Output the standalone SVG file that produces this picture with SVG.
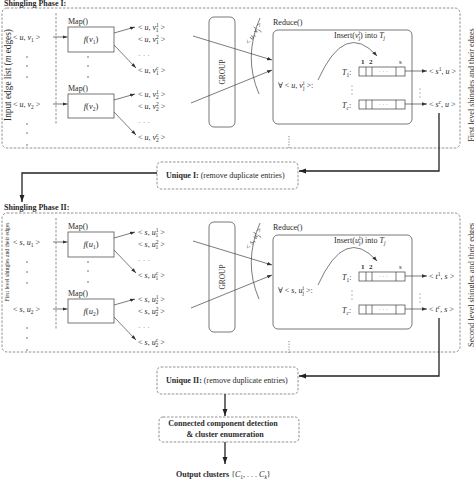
<svg xmlns="http://www.w3.org/2000/svg" width="474" height="479" viewBox="0 0 474 479">
<style>
.t{font-family:"Liberation Serif","DejaVu Serif",serif;font-size:8px;fill:#2a2a2a}
.b{font-weight:bold}
.i{font-style:italic}
.s{font-size:5.5px}
.g{fill:#8a8a8a}
.box{fill:none;stroke:#555;stroke-width:0.8}
.dash{fill:none;stroke:#777;stroke-width:0.8;stroke-dasharray:2.5 1.5}
.ln{fill:none;stroke:#444;stroke-width:0.7}
.dl{fill:none;stroke:#666;stroke-width:0.8;stroke-dasharray:1.2 1.5}
.conn{fill:none;stroke:#222;stroke-width:1.3}
.dot{fill:#444}
</style>
<defs>
<marker id="a" viewBox="0 0 10 10" refX="10" refY="5" markerWidth="5" markerHeight="5" orient="auto" markerUnits="userSpaceOnUse"><path d="M0,1.5L10,5L0,8.5z" fill="#333"/></marker>
<marker id="A" viewBox="0 0 10 10" refX="10" refY="5" markerWidth="7" markerHeight="7" orient="auto" markerUnits="userSpaceOnUse"><path d="M0,1.5L10,5L0,8.5z" fill="#222"/></marker>
</defs>

<!-- ================= PHASE I ================= -->
<g id="phase1">
<rect class="dash" x="2" y="8" width="458" height="140" rx="5"/>
<text class="t b" x="4" y="6">Shingling Phase I:</text>
<text class="t" transform="translate(11,75) rotate(-90)" text-anchor="middle" style="font-size:9.3px">Input edge list (<tspan class="i">m</tspan> edges)</text>
<line class="dash" x1="56" y1="13" x2="56" y2="125"/>
<text class="t" transform="translate(473.5,85) rotate(-90)" text-anchor="middle" style="font-size:8.2px">First level shingles and their edges</text>
</g>

<g id="p1-in1"><text class="t" x="13" y="40">&lt; <tspan class="i">u</tspan>, <tspan class="i">v</tspan><tspan class="s" dy="2">1</tspan><tspan dy="-2"> &gt;</tspan></text></g>
<g id="p1-in2"><text class="t" x="13" y="107">&lt; <tspan class="i">u</tspan>, <tspan class="i">v</tspan><tspan class="s" dy="2">2</tspan><tspan dy="-2"> &gt;</tspan></text></g>
<g id="p1-dots">
<circle class="dot" cx="27" cy="57" r="0.7"/><circle class="dot" cx="27" cy="66" r="0.7"/><circle class="dot" cx="27" cy="77" r="0.7"/>
<circle class="dot" cx="27" cy="124" r="0.7"/><circle class="dot" cx="27" cy="133" r="0.7"/><circle class="dot" cx="27" cy="145" r="0.7"/>
<circle class="dot" cx="88" cy="57" r="0.7"/><circle class="dot" cx="88" cy="66" r="0.7"/><circle class="dot" cx="88" cy="77" r="0.7"/>
</g>
<g id="p1-map1"><text class="t" x="68" y="24">Map()</text><rect class="box" x="68" y="27" width="46" height="25"/><text class="t" x="91" y="42" text-anchor="middle" style="font-size:8.5px"><tspan class="i">f</tspan>(<tspan class="i">v</tspan><tspan class="s" dy="2">1</tspan><tspan dy="-2">)</tspan></text></g>
<g id="p1-map2"><text class="t" x="68" y="91">Map()</text><rect class="box" x="68" y="94" width="46" height="24"/><text class="t" x="91" y="109" text-anchor="middle" style="font-size:8.5px"><tspan class="i">f</tspan>(<tspan class="i">v</tspan><tspan class="s" dy="2">2</tspan><tspan dy="-2">)</tspan></text></g>
<g id="p1-out1">
<text class="t" x="138" y="30">&lt; <tspan class="i">u</tspan>, <tspan class="i">v</tspan><tspan class="s" dy="-3">1</tspan><tspan class="s" dx="-2.8" dy="5">1</tspan><tspan dy="-2"> &gt;</tspan></text>
<text class="t" x="138" y="42">&lt; <tspan class="i">u</tspan>, <tspan class="i">v</tspan><tspan class="s" dy="-3">2</tspan><tspan class="s" dx="-2.8" dy="5">1</tspan><tspan dy="-2"> &gt;</tspan></text>
<text class="t g" x="138" y="58">· · ·</text>
<text class="t" x="138" y="73">&lt; <tspan class="i">u</tspan>, <tspan class="i">v</tspan><tspan class="s" dy="-3">c</tspan><tspan class="s" dx="-2.5" dy="5">1</tspan><tspan dy="-2"> &gt;</tspan></text>
</g>
<g id="p1-out2">
<text class="t" x="138" y="97">&lt; <tspan class="i">u</tspan>, <tspan class="i">v</tspan><tspan class="s" dy="-3">1</tspan><tspan class="s" dx="-2.8" dy="5">2</tspan><tspan dy="-2"> &gt;</tspan></text>
<text class="t" x="138" y="109">&lt; <tspan class="i">u</tspan>, <tspan class="i">v</tspan><tspan class="s" dy="-3">2</tspan><tspan class="s" dx="-2.8" dy="5">2</tspan><tspan dy="-2"> &gt;</tspan></text>
<text class="t g" x="138" y="125">· · ·</text>
<text class="t" x="138" y="140">&lt; <tspan class="i">u</tspan>, <tspan class="i">v</tspan><tspan class="s" dy="-3">c</tspan><tspan class="s" dx="-2.5" dy="5">2</tspan><tspan dy="-2"> &gt;</tspan></text>
</g>
<g id="p1-group"><rect class="box" x="209" y="17" width="26" height="110" rx="5"/><text class="t" transform="translate(224.5,72) rotate(-90)" text-anchor="middle" style="font-size:7.4px">GROUP</text></g>
<g id="p1-keylabel"><text class="t" transform="translate(249,45) rotate(-57)" style="font-size:7.5px">&lt; <tspan class="i">u</tspan>, <tspan class="i">v</tspan><tspan class="s" dy="-3">i</tspan><tspan class="s" dx="-1.5" dy="5">j</tspan><tspan dy="-2"> &gt;</tspan></text></g>
<g id="p1-reduce">
<text class="t" x="273" y="25">Reduce()</text>
<rect class="box" x="273" y="30" width="139" height="94" rx="5"/>
<text class="t" x="334" y="38">Insert(<tspan class="i">v</tspan><tspan class="s" dy="-3">i</tspan><tspan class="s" dx="-1.5" dy="5">j</tspan><tspan dy="-2">) into </tspan><tspan class="i">T</tspan><tspan class="s i" dy="2">j</tspan></text>
<text class="t" x="278" y="88">∀ &lt; <tspan class="i">u</tspan>, <tspan class="i">v</tspan><tspan class="s" dy="-3">i</tspan><tspan class="s" dx="-1.5" dy="5">j</tspan><tspan dy="-2"> &gt;:</tspan></text>
<text class="t b" x="361" y="64" style="font-size:7px">1</text><text class="t b" x="369" y="64" style="font-size:7px">2</text><text class="t" x="399" y="64" style="font-size:7px">s</text>
<text class="t" x="342" y="75"><tspan class="i">T</tspan><tspan class="s" dy="2">1</tspan><tspan dy="-2">:</tspan></text>
<rect class="box" x="359" y="67" width="46" height="9"/>
<path class="ln" d="M366,67V76M372,67V76M396,67V76"/>
<text class="t g" x="379" y="74" style="font-size:6px">· · ·</text>
<circle class="dot" cx="352" cy="86" r="0.5"/><circle class="dot" cx="352" cy="90" r="0.5"/><circle class="dot" cx="352" cy="94" r="0.5"/>
<text class="t" x="342" y="108"><tspan class="i">T</tspan><tspan class="s i" dy="2">c</tspan><tspan dy="-2">:</tspan></text>
<rect class="box" x="359" y="100" width="46" height="9"/>
<path class="ln" d="M366,100V109M372,100V109M396,100V109"/>
<text class="t g" x="379" y="107" style="font-size:6px">· · ·</text>
</g>
<g id="p1-result">
<text class="t" x="429" y="74">&lt; <tspan class="i">s</tspan><tspan class="s" dy="-3">1</tspan><tspan dy="3">, </tspan><tspan class="i">u</tspan> &gt;</text>
<circle class="dot" cx="420" cy="89" r="0.5"/><circle class="dot" cx="420" cy="93" r="0.5"/><circle class="dot" cx="420" cy="97" r="0.5"/>
<text class="t" x="429" y="107">&lt; <tspan class="i">s</tspan><tspan class="s i" dy="-3">c</tspan><tspan dy="3">, </tspan><tspan class="i">u</tspan> &gt;</text>
</g>

<g id="unique1"><rect class="dash" x="157" y="162" width="141" height="27" rx="4"/><text class="t" x="166" y="178"><tspan class="b">Unique I:</tspan> (remove duplicate entries)</text></g>

<!-- ================= PHASE II ================= -->
<g id="phase2">
<rect class="dash" x="2" y="213" width="458" height="139" rx="5"/>
<text class="t b" x="4" y="210">Shingling Phase II:</text>
<text class="t" transform="translate(9,262) rotate(-90)" text-anchor="middle" style="font-size:5.7px">First level shingles and their edges</text>
<line class="dash" x1="56" y1="218" x2="56" y2="330"/>
<text class="t" transform="translate(473.5,285) rotate(-90)" text-anchor="middle" style="font-size:8.3px">Second level shingles and their edges</text>
</g>

<g transform="translate(0,205)">
<g id="p2-in1"><text class="t" x="13" y="40">&lt; <tspan class="i">s</tspan>, <tspan class="i">u</tspan><tspan class="s" dy="2">1</tspan><tspan dy="-2"> &gt;</tspan></text></g>
<g id="p2-in2"><text class="t" x="13" y="107">&lt; <tspan class="i">s</tspan>, <tspan class="i">u</tspan><tspan class="s" dy="2">2</tspan><tspan dy="-2"> &gt;</tspan></text></g>
<g id="p2-dots">
<circle class="dot" cx="27" cy="57" r="0.7"/><circle class="dot" cx="27" cy="67" r="0.7"/><circle class="dot" cx="27" cy="78" r="0.7"/>
<circle class="dot" cx="27" cy="123" r="0.7"/><circle class="dot" cx="27" cy="133" r="0.7"/><circle class="dot" cx="27" cy="145" r="0.7"/>
<circle class="dot" cx="88" cy="57" r="0.7"/><circle class="dot" cx="88" cy="66" r="0.7"/><circle class="dot" cx="88" cy="77" r="0.7"/>
</g>
<g id="p2-map1"><text class="t" x="68" y="24">Map()</text><rect class="box" x="68" y="27" width="46" height="25"/><text class="t" x="91" y="42" text-anchor="middle" style="font-size:8.5px"><tspan class="i">f</tspan>(<tspan class="i">u</tspan><tspan class="s" dy="2">1</tspan><tspan dy="-2">)</tspan></text></g>
<g id="p2-map2"><text class="t" x="68" y="91">Map()</text><rect class="box" x="68" y="94" width="46" height="24"/><text class="t" x="91" y="109" text-anchor="middle" style="font-size:8.5px"><tspan class="i">f</tspan>(<tspan class="i">u</tspan><tspan class="s" dy="2">2</tspan><tspan dy="-2">)</tspan></text></g>
<g id="p2-out1">
<text class="t" x="138" y="30">&lt; <tspan class="i">s</tspan>, <tspan class="i">u</tspan><tspan class="s" dy="-3">1</tspan><tspan class="s" dx="-2.8" dy="5">1</tspan><tspan dy="-2"> &gt;</tspan></text>
<text class="t" x="138" y="42">&lt; <tspan class="i">s</tspan>, <tspan class="i">u</tspan><tspan class="s" dy="-3">2</tspan><tspan class="s" dx="-2.8" dy="5">1</tspan><tspan dy="-2"> &gt;</tspan></text>
<text class="t g" x="138" y="58">· · ·</text>
<text class="t" x="138" y="73">&lt; <tspan class="i">s</tspan>, <tspan class="i">u</tspan><tspan class="s" dy="-3">c</tspan><tspan class="s" dx="-2.5" dy="5">1</tspan><tspan dy="-2"> &gt;</tspan></text>
</g>
<g id="p2-out2">
<text class="t" x="138" y="97">&lt; <tspan class="i">s</tspan>, <tspan class="i">u</tspan><tspan class="s" dy="-3">1</tspan><tspan class="s" dx="-2.8" dy="5">2</tspan><tspan dy="-2"> &gt;</tspan></text>
<text class="t" x="138" y="109">&lt; <tspan class="i">s</tspan>, <tspan class="i">u</tspan><tspan class="s" dy="-3">2</tspan><tspan class="s" dx="-2.8" dy="5">2</tspan><tspan dy="-2"> &gt;</tspan></text>
<text class="t g" x="138" y="125">· · ·</text>
<text class="t" x="138" y="140">&lt; <tspan class="i">s</tspan>, <tspan class="i">u</tspan><tspan class="s" dy="-3">c</tspan><tspan class="s" dx="-2.5" dy="5">2</tspan><tspan dy="-2"> &gt;</tspan></text>
</g>
<g id="p2-group"><rect class="box" x="209" y="17" width="26" height="110" rx="5"/><text class="t" transform="translate(224.5,72) rotate(-90)" text-anchor="middle" style="font-size:7.4px">GROUP</text></g>
<g id="p2-keylabel"><text class="t" transform="translate(249,45) rotate(-57)" style="font-size:7.5px">&lt; <tspan class="i">s</tspan>, <tspan class="i">u</tspan><tspan class="s" dy="-3">i</tspan><tspan class="s" dx="-1.5" dy="5">j</tspan><tspan dy="-2"> &gt;</tspan></text></g>
<g id="p2-reduce">
<text class="t" x="273" y="25">Reduce()</text>
<rect class="box" x="273" y="30" width="139" height="94" rx="5"/>
<text class="t" x="334" y="38">Insert(<tspan class="i">u</tspan><tspan class="s" dy="-3">i</tspan><tspan class="s" dx="-1.5" dy="5">j</tspan><tspan dy="-2">) into </tspan><tspan class="i">T</tspan><tspan class="s i" dy="2">j</tspan></text>
<text class="t" x="278" y="88">∀ &lt; <tspan class="i">s</tspan>, <tspan class="i">u</tspan><tspan class="s" dy="-3">i</tspan><tspan class="s" dx="-1.5" dy="5">j</tspan><tspan dy="-2"> &gt;:</tspan></text>
<text class="t b" x="361" y="64" style="font-size:7px">1</text><text class="t b" x="369" y="64" style="font-size:7px">2</text><text class="t" x="399" y="64" style="font-size:7px">s</text>
<text class="t" x="342" y="75"><tspan class="i">T</tspan><tspan class="s" dy="2">1</tspan><tspan dy="-2">:</tspan></text>
<rect class="box" x="359" y="67" width="46" height="9"/>
<path class="ln" d="M366,67V76M372,67V76M396,67V76"/>
<text class="t g" x="379" y="74" style="font-size:6px">· · ·</text>
<circle class="dot" cx="352" cy="86" r="0.5"/><circle class="dot" cx="352" cy="90" r="0.5"/><circle class="dot" cx="352" cy="94" r="0.5"/>
<text class="t" x="342" y="108"><tspan class="i">T</tspan><tspan class="s i" dy="2">c</tspan><tspan dy="-2">:</tspan></text>
<rect class="box" x="359" y="100" width="46" height="9"/>
<path class="ln" d="M366,100V109M372,100V109M396,100V109"/>
<text class="t g" x="379" y="107" style="font-size:6px">· · ·</text>
</g>
<g id="p2-result">
<text class="t" x="429" y="74">&lt; <tspan class="i">t</tspan><tspan class="s" dy="-3">1</tspan><tspan dy="3">, </tspan><tspan class="i">s</tspan> &gt;</text>
<circle class="dot" cx="420" cy="89" r="0.5"/><circle class="dot" cx="420" cy="93" r="0.5"/><circle class="dot" cx="420" cy="97" r="0.5"/>
<text class="t" x="429" y="107">&lt; <tspan class="i">t</tspan><tspan class="s i" dy="-3">c</tspan><tspan dy="3">, </tspan><tspan class="i">s</tspan> &gt;</text>
</g>
</g>

<g id="unique2"><rect class="dash" x="157" y="367" width="141" height="27" rx="4"/><text class="t" x="166" y="383"><tspan class="b">Unique II:</tspan> (remove duplicate entries)</text></g>
<g id="ccdetect"><rect class="dash" x="159" y="417" width="140" height="25" rx="4"/><text class="t b" x="223" y="426" text-anchor="middle">Connected component detection</text><text class="t b" x="225" y="437" text-anchor="middle">&amp; cluster enumeration</text></g>
<g id="output"><text class="t" x="176" y="477"><tspan class="b">Output clusters</tspan> {<tspan class="i">C</tspan><tspan class="s" dy="2">1</tspan><tspan dy="-2">, . . . </tspan><tspan class="i">C</tspan><tspan class="s i" dy="2">k</tspan><tspan dy="-2">}</tspan></text></g>

<!-- ================= CONNECTORS ================= -->
<g id="connectors">
<g id="conn-p1">
<line class="ln" x1="53" y1="37" x2="67.5" y2="37" marker-end="url(#a)"/>
<line class="ln" x1="53" y1="104" x2="67.5" y2="104" marker-end="url(#a)"/>
<line class="ln" x1="114" y1="33" x2="135" y2="27" marker-end="url(#a)"/>
<line class="ln" x1="114" y1="45" x2="136" y2="68" marker-end="url(#a)"/>
<line class="ln" x1="114" y1="100" x2="135" y2="94" marker-end="url(#a)"/>
<line class="ln" x1="114" y1="112" x2="136" y2="135" marker-end="url(#a)"/>
<line class="ln" x1="193" y1="36" x2="272" y2="60" marker-end="url(#a)"/>
<line class="ln" x1="191" y1="103" x2="272" y2="70" marker-end="url(#a)"/>
<path class="ln" d="M260,18Q243,57 259,94"/>
<path class="ln" d="M318,80Q345,20 377,56" marker-end="url(#a)"/>
<line class="ln" x1="405" y1="71" x2="427" y2="71" marker-end="url(#a)"/>
<line class="ln" x1="405" y1="104" x2="427" y2="104" marker-end="url(#a)"/>
<line class="dl" x1="289" y1="136" x2="289" y2="148"/>
</g>
<g id="conn-p2" transform="translate(0,205)">
<line class="ln" x1="53" y1="37" x2="67.5" y2="37" marker-end="url(#a)"/>
<line class="ln" x1="53" y1="104" x2="67.5" y2="104" marker-end="url(#a)"/>
<line class="ln" x1="114" y1="33" x2="135" y2="27" marker-end="url(#a)"/>
<line class="ln" x1="114" y1="45" x2="136" y2="68" marker-end="url(#a)"/>
<line class="ln" x1="114" y1="100" x2="135" y2="94" marker-end="url(#a)"/>
<line class="ln" x1="114" y1="112" x2="136" y2="135" marker-end="url(#a)"/>
<line class="ln" x1="193" y1="36" x2="272" y2="60" marker-end="url(#a)"/>
<line class="ln" x1="191" y1="103" x2="272" y2="70" marker-end="url(#a)"/>
<path class="ln" d="M260,18Q243,57 259,94"/>
<path class="ln" d="M318,80Q345,20 377,56" marker-end="url(#a)"/>
<line class="ln" x1="405" y1="71" x2="427" y2="71" marker-end="url(#a)"/>
<line class="ln" x1="405" y1="104" x2="427" y2="104" marker-end="url(#a)"/>
<line class="dl" x1="289" y1="136" x2="289" y2="148"/>
</g>
<path class="conn" d="M439,113V171H299" marker-end="url(#A)"/>
<path class="conn" d="M157,173H22V202" marker-end="url(#A)"/>
<path class="conn" d="M439,318V376H299" marker-end="url(#A)"/>
<path class="conn" d="M225,394V416" marker-end="url(#A)"/>
<path class="conn" d="M225,442V464" marker-end="url(#A)"/>
</g>
</svg>
